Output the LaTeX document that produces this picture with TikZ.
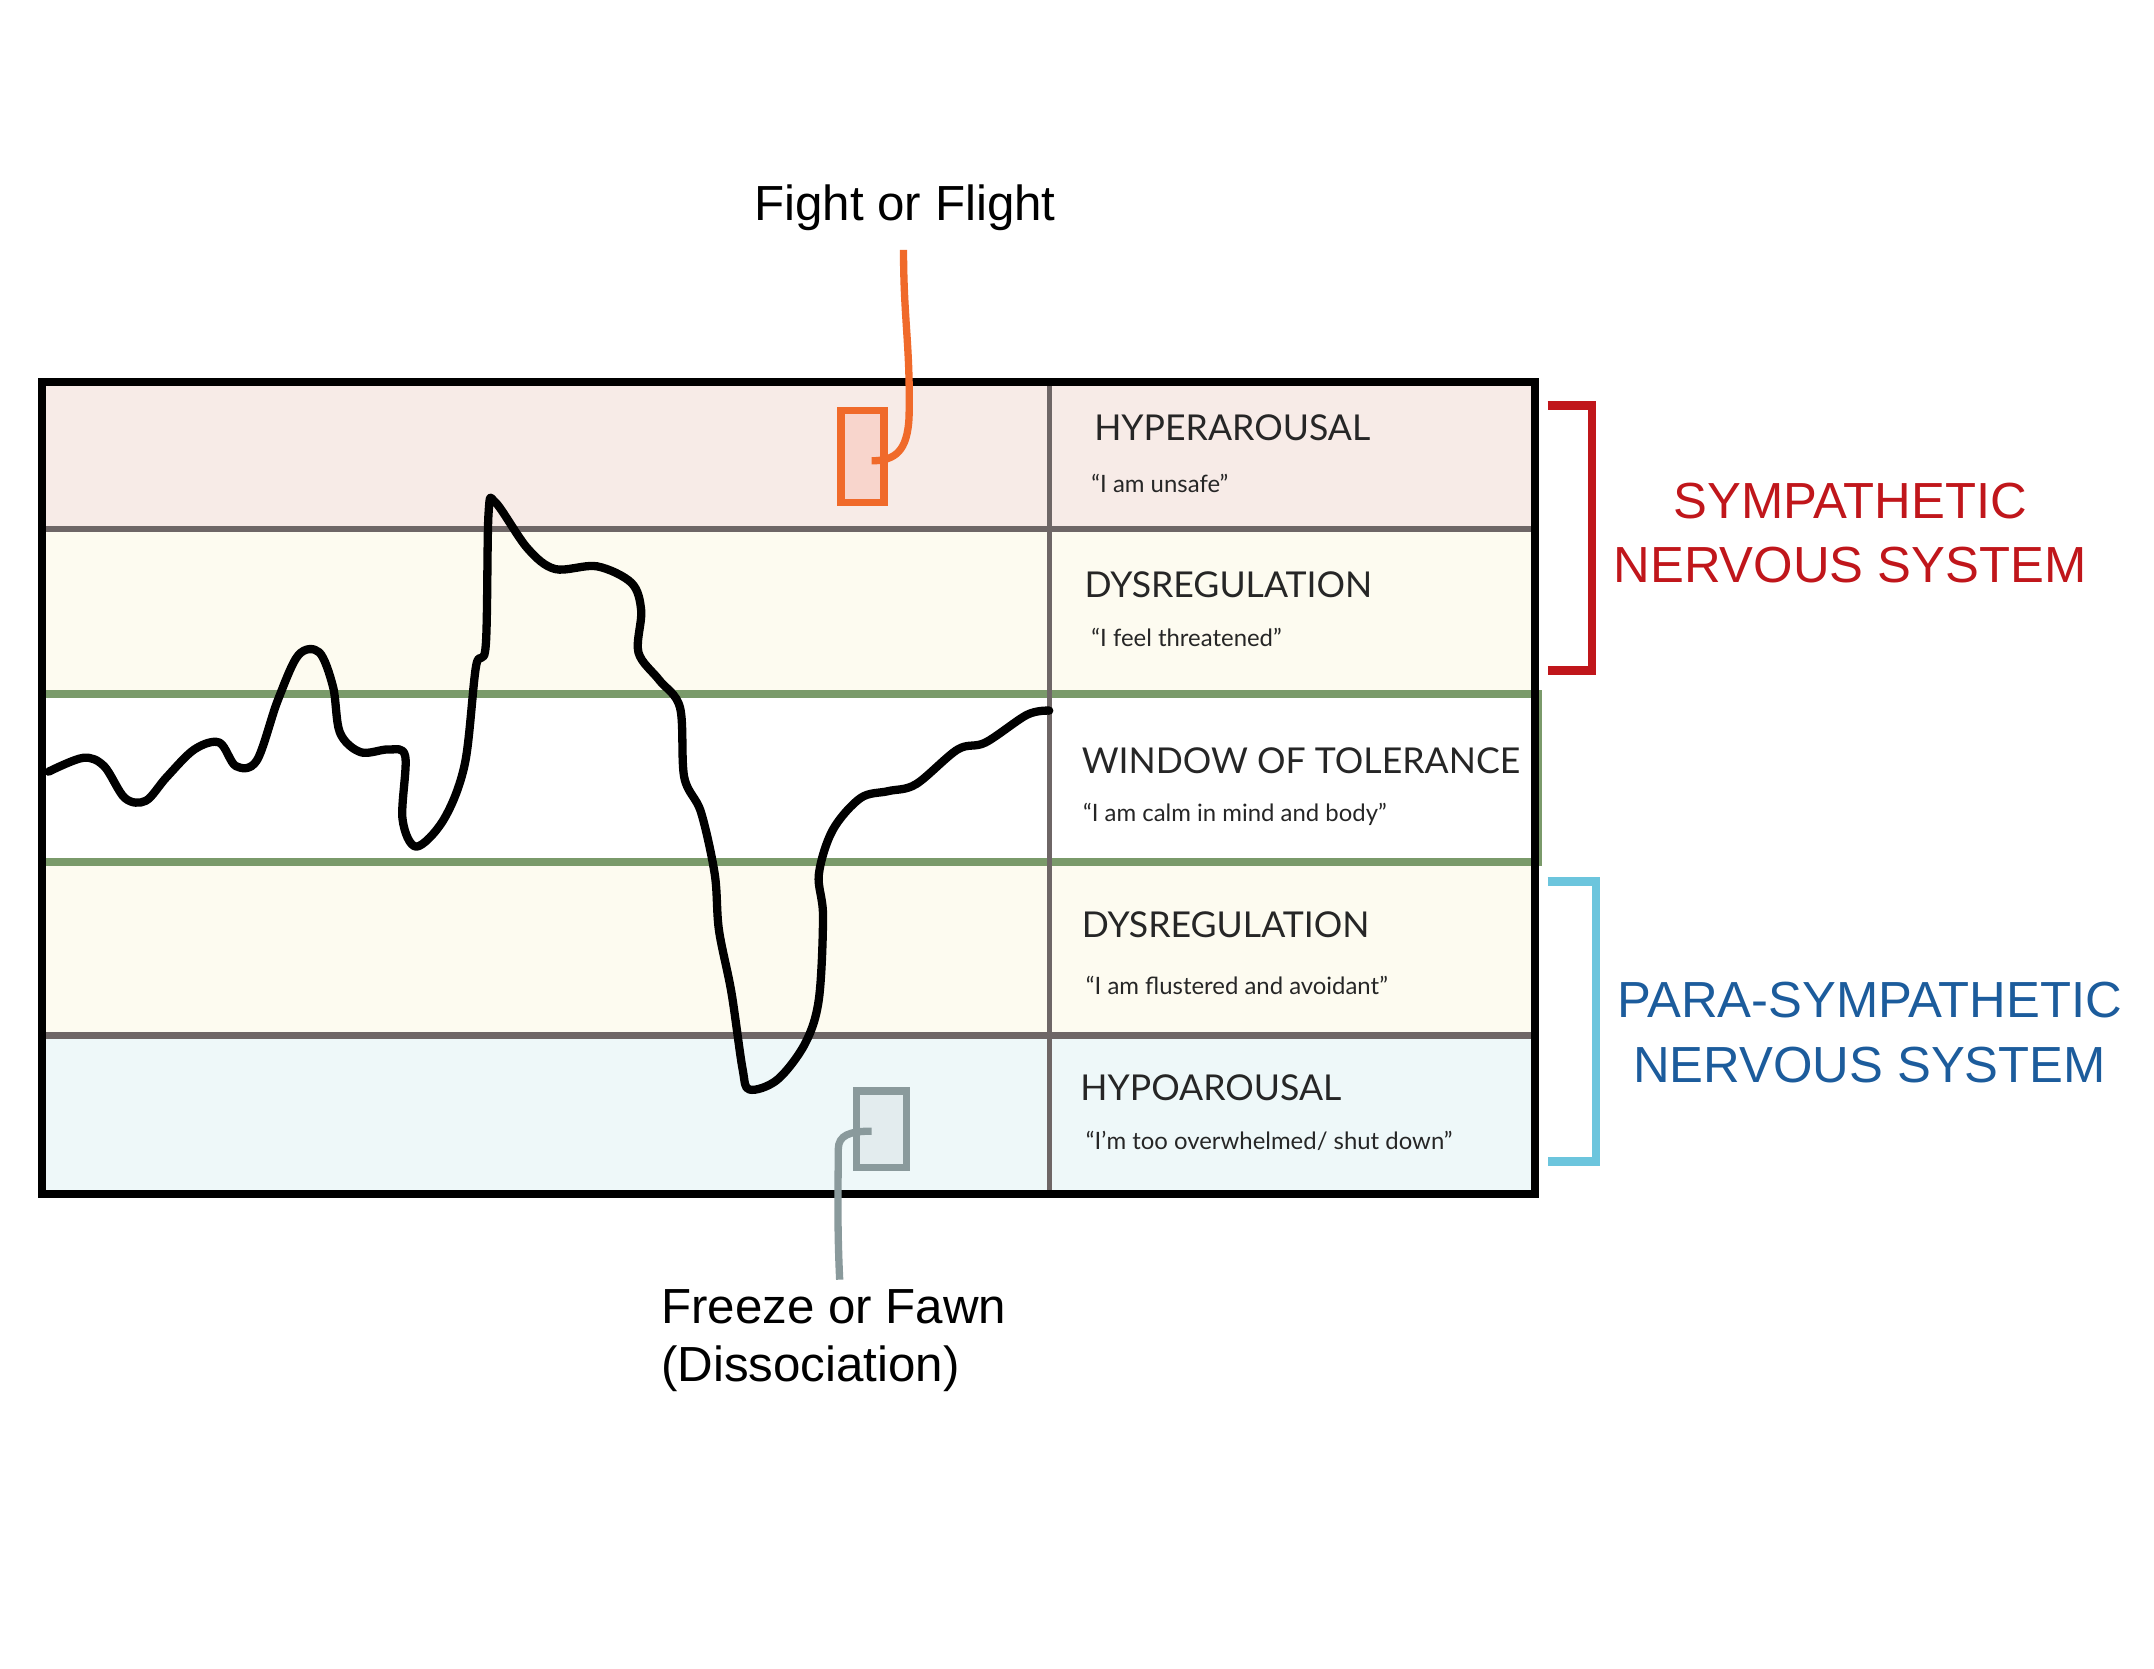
\documentclass[tikz,border=0pt]{standalone}
\usepackage{fontspec}
\setmainfont{Liberation Sans}
\newfontfamily\bandfont{Lato}
\definecolor{hyper}{HTML}{F7EBE7}
\definecolor{dys}{HTML}{FDFBF0}
\definecolor{hypo}{HTML}{EEF8F9}
\definecolor{wgreen}{HTML}{7A9A6A}
\definecolor{sred}{HTML}{C0161B}
\definecolor{sblue}{HTML}{1C5C9C}
\definecolor{lblue}{HTML}{6CC5DD}
\definecolor{ora}{HTML}{F06A2A}
\definecolor{orafill}{HTML}{F8D5CC}
\definecolor{gry}{HTML}{8A9A9C}
\definecolor{gryfill}{HTML}{E3ECEE}
\definecolor{divl}{HTML}{6E6666}
\begin{document}
\begin{tikzpicture}[x=0.01cm,y=-0.01cm,
  head/.style={font=\bandfont\fontsize{7.3}{9}\selectfont, anchor=west, text=black!85},
  quote/.style={font=\bandfont\fontsize{4.9}{6}\selectfont, anchor=west, text=black!85},
  big/.style={font=\fontsize{10.4}{13.2}\selectfont, align=center},
  lab/.style={font=\fontsize{10.1}{11.8}\selectfont}]
\useasboundingbox (0,0) rectangle (1552,1202);
% bands
\fill[hyper] (30,275) rectangle (1106,381);
\fill[dys] (30,381) rectangle (1106,500);
\fill[white] (30,500) rectangle (1106,621);
\fill[dys] (30,621) rectangle (1106,746);
\fill[hypo] (30,746) rectangle (1106,860);
\draw[divl, line width=1.3pt] (30,381) -- (1106,381) (30,746) -- (1106,746);
\draw[wgreen, line width=1.6pt] (30,500) rectangle (1108,621);
\draw[divl, line width=1.1pt] (756,275) -- (756,860);
\draw[black, line width=1.6pt] (30,275) rectangle (1106,860);
% texts
\node[head] (h1) at (776,308) {HYPERAROUSAL};
\node[quote] (q1) at (774,348) {“I am unsafe”};
\node[head] (h2) at (769,421) {DYSREGULATION};
\node[quote] (q2) at (774,459) {“I feel threatened”};
\node[head] (h3) at (767,548) {WINDOW OF TOLERANCE};
\node[quote] (q3) at (768,587) {“I am calm in mind and body”};
\node[head] (h4) at (767,666) {DYSREGULATION};
\node[quote] (q4) at (770,710) {“I am flustered and avoidant”};
\node[head] (h5) at (766,784) {HYPOAROUSAL};
\node[quote] (q5) at (770,822) {“I’m too overwhelmed/ shut down”};
% brackets
\draw[sred, line width=1.8pt] (1115,292) -- (1147,292) -- (1147,483) -- (1115,483);
\node[big, text=sred] (sym) at (1333,384) {SYMPATHETIC\\NERVOUS SYSTEM};
\draw[lblue, line width=1.8pt] (1115,635) -- (1150,635) -- (1150,837) -- (1115,837);
\node[big, text=sblue] (psym) at (1347,744) {PARA-SYMPATHETIC\\NERVOUS SYSTEM};
% markers
\node[draw=ora, fill=orafill, line width=1.5pt, minimum width=0.31cm, minimum height=0.66cm, inner sep=0] (orect) at (621.5,329) {};
\node[lab] (ff) at (652,150) {Fight or Flight};
\draw[ora, line width=1.5pt] (651,180) .. controls (651,230) and (656,250) .. (655,300) .. controls (654,325) and (645,332) .. (628,332);
\node[draw=gry, fill=gryfill, line width=1.5pt, minimum width=0.36cm, minimum height=0.55cm, inner sep=0] (grect) at (635,813.5) {};
\node[lab, anchor=west, align=left] (fz) at (464,966) {Freeze or Fawn\\(Dissociation)};
\draw[gry, line width=1.5pt] (605,922) .. controls (603,880) and (604,850) .. (604,828) .. controls (604,818) and (612,815) .. (628,815);
% curve
\draw[black, line width=1.7pt, line join=round, line cap=round] plot[smooth, tension=0.55] coordinates {
(35,556) (60,546) (75,552) (90,575) (105,577) (120,560) (140,540) (158,535) (170,552) (185,548) (200,505) (215,472) (230,470) (240,495) (245,528) (260,542) (280,540) (292,545) (290,590) (300,610) (320,590) (335,550) (343,480) (350,465) (352,370) (357,362) (380,395) (400,410) (430,408) (455,420) (462,440) (460,470) (475,490) (490,510) (493,560) (505,585) (515,630) (518,670) (527,715) (535,770) (540,785) (560,778) (580,752) (590,720) (593,660) (590,630) (600,598) (620,575) (640,570) (660,565) (690,540) (710,535) (740,515) (756,512)};
\end{tikzpicture}
\end{document}
